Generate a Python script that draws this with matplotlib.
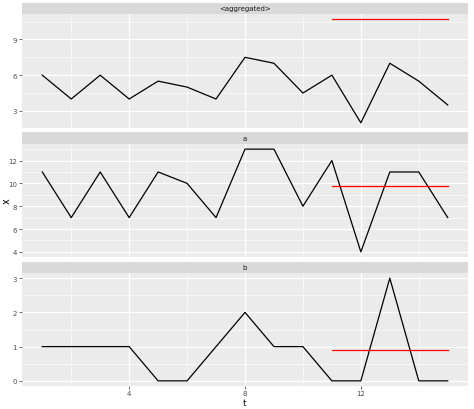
import matplotlib
matplotlib.use("Agg")
import matplotlib.pyplot as plt
import numpy as np

t = list(range(1, 16))
a_vals = [11, 7, 11, 7, 11, 10, 7, 13, 13, 8, 12, 4, 11, 11, 7]
b_vals = [1, 1, 1, 1, 0, 0, 1, 2, 1, 1, 0, 0, 3, 0, 0]
agg_vals = [6, 4, 6, 4, 5.5, 5, 4, 7.5, 7, 4.5, 6, 2, 7, 5.5, 3.5]
panel_names = ["<aggregated>", "a", "b"]
red_start, red_end = 11, 15
red_levels = [10.7, 9.8, 0.9]
series = [agg_vals, a_vals, b_vals]
y_major = [[3, 6, 9], [4, 6, 8, 10, 12], [0, 1, 2, 3]]
x_major = [4, 8, 12]

W, H = 474, 410
fig = plt.figure(figsize=(W / 100, H / 100), dpi=100)
fig.patch.set_facecolor("white")

left, right = 22, 468
panels_px = [(4, 15, 129), (133, 145, 258), (263, 274, 387)]

def frac(x0, y0, x1, y1):
    return [x0 / W, 1 - y1 / H, (x1 - x0) / W, (y1 - y0) / H]

for i, (st, pt, pb) in enumerate(panels_px):
    ys = series[i]
    # strip
    sax = fig.add_axes(frac(left, st, right, pt))
    sax.set_facecolor("#D9D9D9")
    sax.set_xticks([]); sax.set_yticks([])
    for s in sax.spines.values():
        s.set_visible(False)
    sax.text(0.5, 0.5, panel_names[i], ha="center", va="center",
             fontsize=5, color="#1A1A1A", transform=sax.transAxes)

    ax = fig.add_axes(frac(left, pt, right, pb))
    ax.set_facecolor("#EBEBEB")
    for s in ax.spines.values():
        s.set_visible(False)
    lo = min(min(ys), red_levels[i]); hi = max(max(ys), red_levels[i])
    pad = (hi - lo) * 0.05
    ax.set_ylim(lo - pad, hi + pad)
    ax.set_xlim(1 - 0.7, 15 + 0.7)
    ym = y_major[i]
    step = ym[1] - ym[0]
    minors = [v + step / 2 for v in [ym[0] - step] + ym]
    for v in minors:
        ax.axhline(v, color="white", lw=0.4, zorder=0)
    for v in ym:
        ax.axhline(v, color="white", lw=0.9, zorder=0)
    for v in [2, 6, 10, 14]:
        ax.axvline(v, color="white", lw=0.4, zorder=0)
    for v in x_major:
        ax.axvline(v, color="white", lw=0.9, zorder=0)
    ax.plot(t, ys, color="black", lw=0.9, zorder=3)
    ax.plot([red_start, red_end], [red_levels[i], red_levels[i]], color="red", lw=0.9, zorder=3)
    ax.set_yticks(ym)
    ax.set_yticklabels([str(v) for v in ym])
    ax.tick_params(axis="y", length=2, width=0.5, color="#333333", labelsize=5,
                   labelcolor="#4D4D4D", pad=1.5)
    if i == 2:
        ax.set_xticks(x_major)
        ax.set_xticklabels([str(v) for v in x_major])
        ax.tick_params(axis="x", length=2, width=0.5, color="#333333", labelsize=5,
                       labelcolor="#4D4D4D", pad=1)
    else:
        ax.set_xticks([])

fig.text(7 / W, 1 - 201 / H, "x", fontsize=7, rotation=90, ha="center", va="center")
fig.text((left + right) / 2 / W, 1 - 404 / H, "t", fontsize=6.5, ha="center", va="center")

fig.savefig("out.png", dpi=100)
